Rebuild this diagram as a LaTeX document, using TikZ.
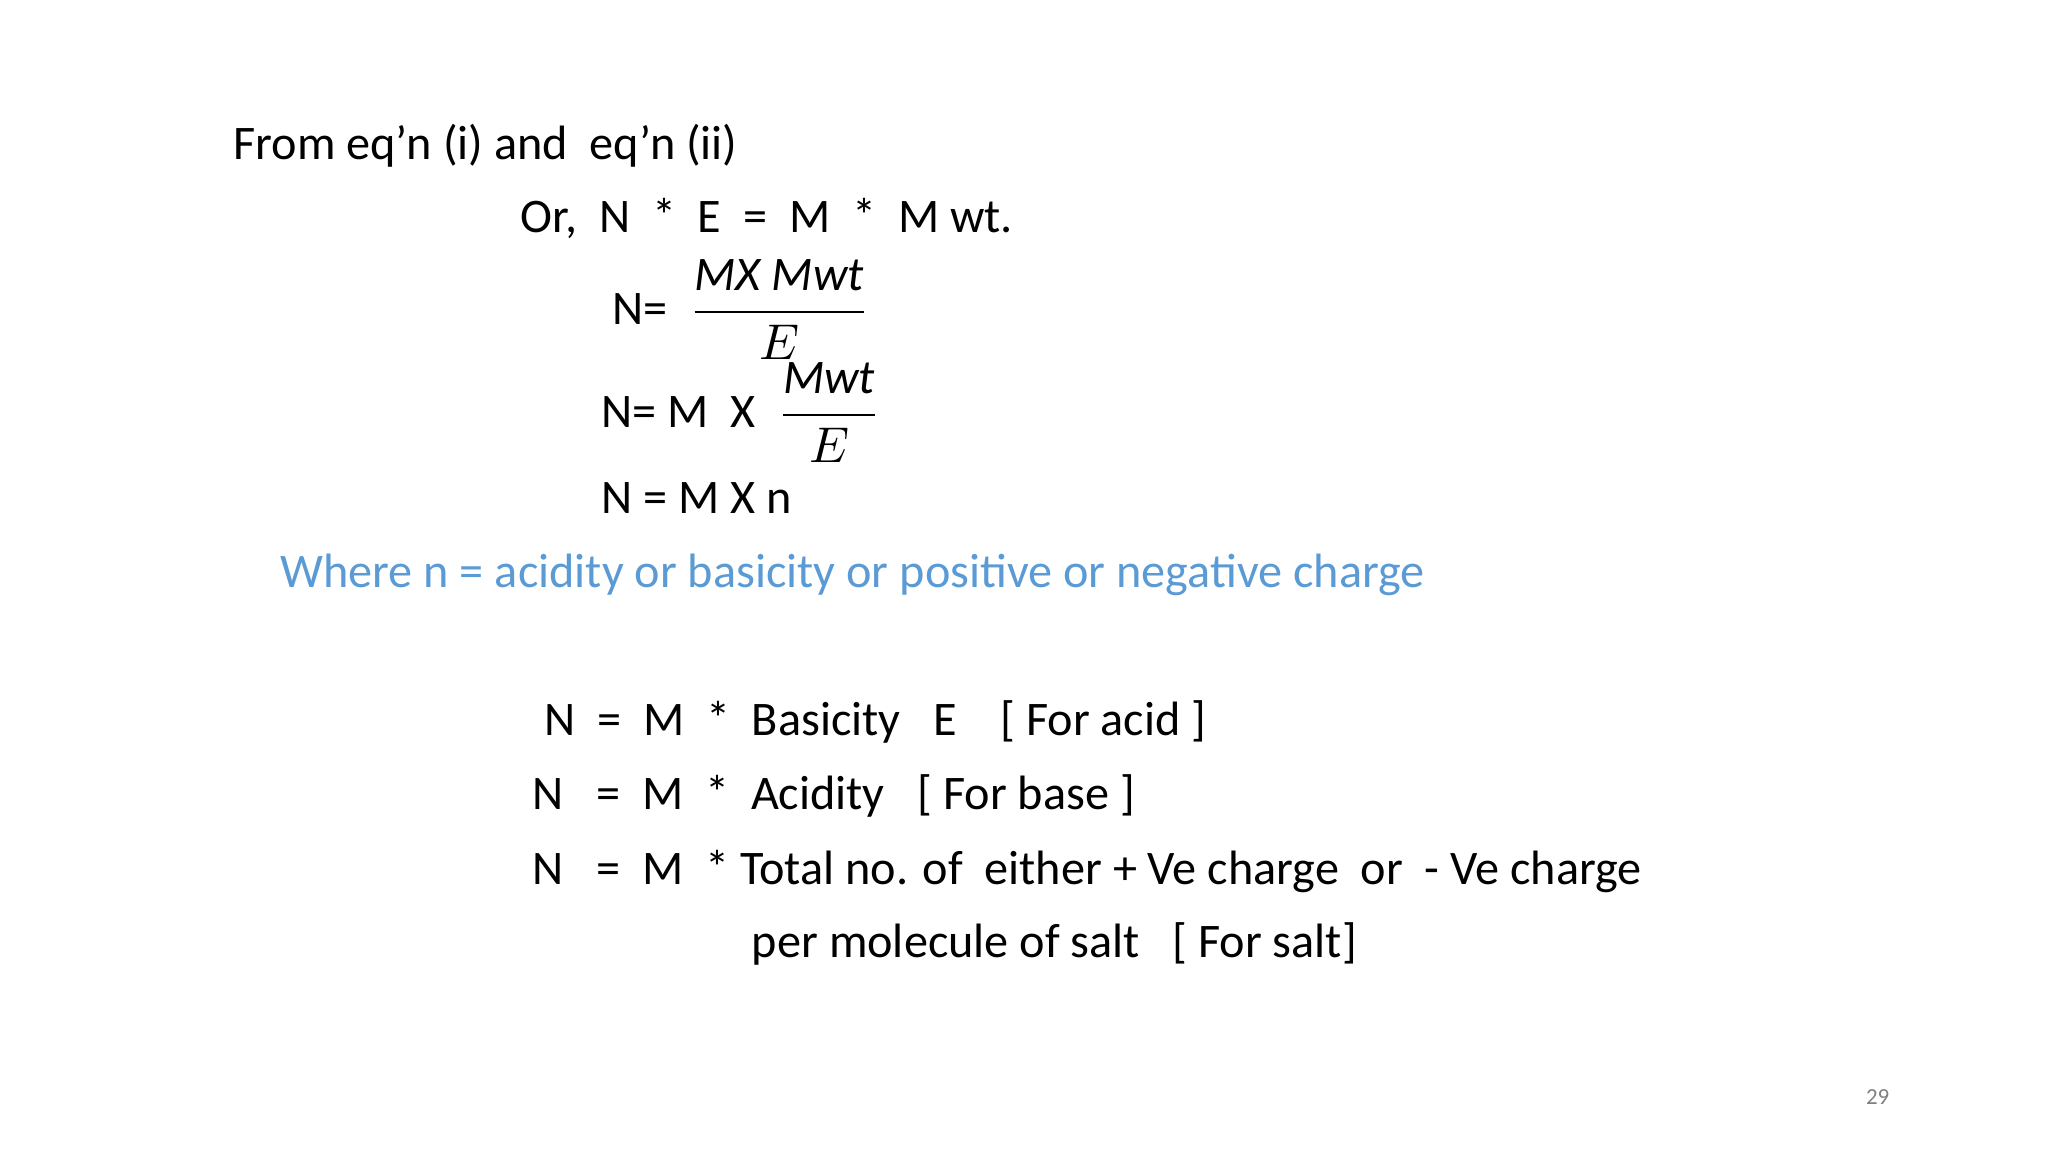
\documentclass[tikz,border=0pt]{standalone}
\usepackage{fontspec}
\setmainfont{Carlito}
\usetikzlibrary{positioning}
\definecolor{WhereBlue}{RGB}{91,155,213}
\begin{document}
\begin{tikzpicture}[x=0.01cm,y=-0.01cm,
    T/.style = {anchor=base west, inner sep=0pt, font=\fontsize{10.5}{12}\selectfont},
    F/.style = {anchor=west, inner sep=0pt, font=\fontsize{10.5}{12}\selectfont}
  ]
  \useasboundingbox (0,0) rectangle (1568,882);

  % heading
  \node[T] (from) at (178,122) {From eq’n (i) and\ \ eq’n (ii)};
  \node[T] (or)   at (398,178) {Or,\ \ N\ \ *\ \ E\ \ =\ \ M\ \ *\ \ M wt.};

  % fractions
  \node[F] (n1) at (468,237) {N=\ \ $\displaystyle\frac{\mathit{MX}\ \mathit{Mwt}}{E}$};
  \node[F] (n2) at (460,316) {N= M\ \ X\ \ $\displaystyle\frac{\mathit{Mwt}}{E}$};
  \node[T] (n3) at (460,393) {N = M X n};

  % definition
  \node[T, text=WhereBlue] (where) at (214,450) {Where n = acidity or basicity or positive or negative charge};

  % cases
  \node[T] (acid) at (416,563) {N\ \ =\ \ M\ \ *\ \ Basicity\ \ \ E\ \ \ \ [ For acid ]};
  \node[T] (base) at (407,620) {N\ \ \ =\ \ M\ \ *\ \ Acidity\ \ \ [ For base ]};
  \node[T] (salt) at (407,677) {N\ \ \ =\ \ M\ \ * Total no. of\ \ either + Ve charge\ \ or\ \ - Ve charge};
  \node[T] (salt2) at (575,733) {per molecule of salt\ \ \ [ For salt]};

  % page number
  \node[T, text=gray, font=\fontsize{5}{6}\selectfont] (page) at (1428,846) {29};
\end{tikzpicture}
\end{document}
